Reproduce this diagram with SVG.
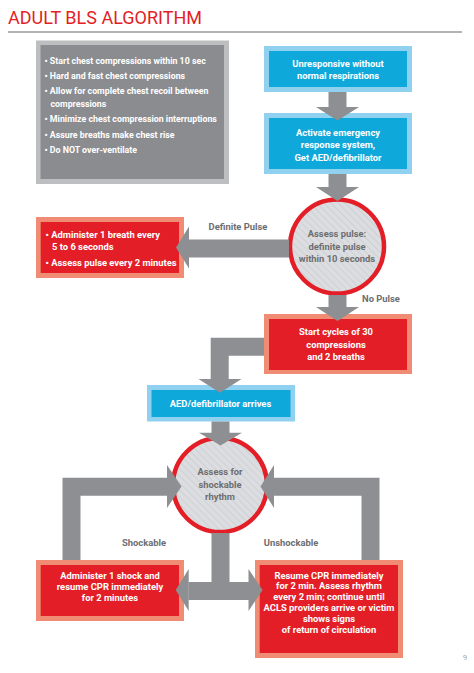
<svg xmlns="http://www.w3.org/2000/svg" width="474" height="673" viewBox="0 0 474 673">
<defs>
<pattern id="hatch" patternUnits="userSpaceOnUse" width="5" height="5" patternTransform="rotate(-45)">
<rect width="5" height="5" fill="#dcdde0"/>
<line x1="0" y1="0" x2="0" y2="5" stroke="#c6c7ca" stroke-width="1.2"/>
</pattern>
<style>
text{font-family:Roboto,"Liberation Sans",Arial,sans-serif;font-weight:bold;font-size:9.4px}
.w{fill:#ffffff}
.g{fill:#6d6e71}
.c{text-anchor:middle}
.sal{fill:#f08c73}
.red{fill:#e31e26}
.lb{fill:#8fd1ef}
.blue{fill:#0fa8da}
.ring{fill:url(#hatch);stroke:#e31e26;stroke-width:4.5}
.shaft{fill:none;stroke:#8d8f92;stroke-width:18}
.head{fill:#8d8f92}
</style>
</defs>
<rect width="474" height="673" fill="#ffffff"/>
<text x="8" y="24" style="font-weight:normal;font-size:18px;fill:#e31e26">ADULT BLS ALGORITHM</text>
<line x1="8" y1="32" x2="462" y2="32" stroke="#9a9b9e" stroke-width="1.5"/>

<g id="tips">
<rect x="36" y="40.5" width="193" height="143.5" fill="#bdbec0"/>
<rect x="40.5" y="45" width="183.5" height="134" fill="#8b8c8f"/>
<text class="w" style="font-size:8.8px"><tspan x="44.5" y="63.7">• Start chest compressions within 10 sec</tspan><tspan x="44.5" y="78.5">• Hard and fast chest compressions</tspan><tspan x="44.5" y="93.9">• Allow for complete chest recoil between</tspan><tspan x="50.5" y="106.9">compressions</tspan><tspan x="44.5" y="122.2">• Minimize chest compression interruptions</tspan><tspan x="44.5" y="137.5">• Assure breaths make chest rise</tspan><tspan x="44.5" y="152.5">• Do NOT over-ventilate</tspan></text>
</g>

<g id="unresponsive">
<rect class="lb" x="264" y="46" width="148" height="46"/>
<rect class="blue" x="269" y="51" width="138" height="36"/>
<text class="w c"><tspan x="338" y="66.5">Unresponsive without</tspan><tspan x="338" y="78.8">normal respirations</tspan></text>
</g>

<g id="activate">
<rect class="lb" x="264" y="113" width="148" height="61"/>
<rect class="blue" x="269" y="118" width="138" height="51"/>
<text class="w c"><tspan x="338" y="135.5">Activate emergency</tspan><tspan x="338" y="148.2">response system,</tspan><tspan x="338" y="160.5">Get AED/defibrillator</tspan></text>
</g>

<g id="assess-pulse">
<circle class="ring" cx="337" cy="246.5" r="47"/>
<text class="g c"><tspan x="337" y="236.8">Assess pulse:</tspan><tspan x="337" y="249.5">definite pulse</tspan><tspan x="337" y="261.5">within 10 seconds</tspan></text>
</g>

<g id="rescue-breathing">
<rect class="sal" x="36" y="217" width="148" height="61"/>
<rect class="red" x="40.7" y="222" width="138.3" height="51"/>
<text class="w"><tspan x="45.5" y="238.2">• Administer 1 breath every</tspan><tspan x="52" y="250.2">5 to 6 seconds</tspan><tspan x="45.5" y="265.5">• Assess pulse every 2 minutes</tspan></text>
</g>

<g id="start-cpr">
<rect class="sal" x="264" y="314" width="148" height="60"/>
<rect class="red" x="269" y="319" width="138" height="51"/>
<text class="w c"><tspan x="336" y="335.2">Start cycles of 30</tspan><tspan x="336" y="347.8">compressions</tspan><tspan x="336" y="359.8">and 2 breaths</tspan></text>
</g>

<g id="aed-arrives">
<rect class="lb" x="147" y="385" width="148" height="36.5"/>
<rect class="blue" x="151.5" y="390" width="139" height="27"/>
<text class="w c" x="220.5" y="407.2">AED/defibrillator arrives</text>
</g>

<g id="assess-rhythm">
<circle class="ring" cx="220" cy="485" r="47"/>
<text class="g c"><tspan x="220" y="475.2">Assess for</tspan><tspan x="220" y="487.8">shockable</tspan><tspan x="220" y="500.2">rhythm</tspan></text>
</g>

<g id="shock">
<rect class="sal" x="36" y="560" width="148" height="61"/>
<rect class="red" x="40.7" y="565" width="138.3" height="51"/>
<text class="w c"><tspan x="110" y="578.5">Administer 1 shock and</tspan><tspan x="110" y="589.8">resume CPR immediately</tspan><tspan x="110" y="600.5">for 2 minutes</tspan></text>
</g>

<g id="resume-cpr">
<rect class="sal" x="255" y="560" width="148" height="98"/>
<rect class="red" x="259.7" y="565" width="138.3" height="88"/>
<text class="w c"><tspan x="329" y="578.5">Resume CPR immediately</tspan><tspan x="329" y="589.2">for 2 min. Assess rhythm</tspan><tspan x="329" y="600.2">every 2 min; continue until</tspan><tspan x="329" y="611.2">ACLS providers arrive or victim</tspan><tspan x="329" y="622.2">shows signs</tspan><tspan x="329" y="632.8">of return of circulation</tspan></text>
</g>

<g id="connectors">
<path class="shaft" d="M337.5 92 V107.5"/>
<polygon class="head" points="316,107 359,107 337.5,120.5"/>
<path class="shaft" d="M337.5 174 V187.5"/>
<polygon class="head" points="316,187 359,187 337.5,201"/>
<path class="shaft" d="M289 248.5 H188.5"/>
<polygon class="head" points="189,226.5 189,268.5 176,247.5"/>
<path class="shaft" d="M337.5 295 V307.5"/>
<polygon class="head" points="316,307 359,307 337.5,321"/>
<path class="shaft" d="M264 346.7 H219.7 V379.5" style="stroke-linejoin:miter"/>
<polygon class="head" points="198.5,379 241.5,379 220,392.7"/>
<path class="shaft" d="M220.5 421.5 V433"/>
<polygon class="head" points="199,432.7 242,432.7 220.5,445.5"/>
<path class="shaft" d="M71.5 560 V486.7 H167.5"/>
<polygon class="head" points="167,465 167,508 181.5,486.5"/>
<path class="shaft" d="M370.5 560 V486.7 H273.5"/>
<polygon class="head" points="274,465 274,508 260.5,486.5"/>
<path class="shaft" d="M220.5 533 V591 M188.5 591 H249"/>
<polygon class="head" points="188.7,569 188.7,611 175.7,590"/>
<polygon class="head" points="248.5,569 248.5,611 262.5,590"/>
</g>
<text class="g c" x="238" y="230.2">Definite Pulse</text>
<text class="g c" x="381" y="302.2">No Pulse</text>
<text class="g c" x="144" y="546.2">Shockable</text>
<text class="g c" x="291" y="546.2">Unshockable</text>
<text x="465" y="660" style="font-weight:normal;font-size:8px;fill:#a7a8aa;text-anchor:middle">9</text>
</svg>
